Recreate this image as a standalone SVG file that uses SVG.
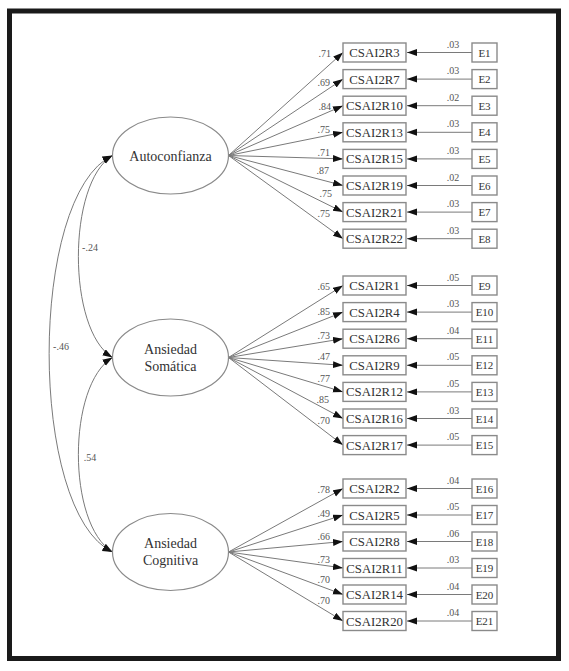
<svg xmlns="http://www.w3.org/2000/svg" width="569" height="671" viewBox="0 0 569 671">
<style>
.frame{fill:#fff;stroke:#1a1a1a;stroke-width:5}
.box{fill:#fff;stroke:#8a8a8a;stroke-width:1.4}
.lat{fill:#fff;stroke:#8a8a8a;stroke-width:1.2}
.ln{fill:none;stroke:#7a7a7a;stroke-width:1}
.t{font-family:"Liberation Serif","Times New Roman",serif;fill:#333;text-anchor:middle}
.bt{font-size:12.8px}
.et{font-size:11px}
.lt{font-size:14px}
.nt{font-family:"Liberation Serif","Times New Roman",serif;fill:#555;font-size:10px}
.ne{text-anchor:end}
.nm{text-anchor:middle}
</style>
<defs>
<marker id="ah" markerUnits="userSpaceOnUse" markerWidth="11" markerHeight="8" refX="10" refY="3.5" orient="auto-start-reverse">
<path d="M0,0 L10,3.5 L0,7 Z" fill="#111"/>
</marker>
</defs>
<rect class="frame" x="9.5" y="11" width="549" height="647.5"/>

<g id="connectors">
<!-- covariances -->
<path class="ln" d="M112.5,155.5 C67,183 67,330 112.5,357.5" marker-start="url(#ah)" marker-end="url(#ah)"/>
<path class="ln" d="M112.5,357.5 C67,385 67,524 112.5,552" marker-start="url(#ah)" marker-end="url(#ah)"/>
<path class="ln" d="M112.5,155.5 C28,195 28,512 112.5,552" marker-start="url(#ah)" marker-end="url(#ah)"/>
<text class="nt nm" x="90" y="251">-.24</text>
<text class="nt nm" x="90" y="461">.54</text>
<text class="nt nm" x="61" y="350">-.46</text>
<!-- loadings group 1 -->
<g marker-end="url(#ah)">
<line class="ln" x1="228.5" y1="155.5" x2="343" y2="52.5"/>
<line class="ln" x1="228.5" y1="155.5" x2="343" y2="79.1"/>
<line class="ln" x1="228.5" y1="155.5" x2="343" y2="105.7"/>
<line class="ln" x1="228.5" y1="155.5" x2="343" y2="132.3"/>
<line class="ln" x1="228.5" y1="155.5" x2="343" y2="158.9"/>
<line class="ln" x1="228.5" y1="155.5" x2="343" y2="185.5"/>
<line class="ln" x1="228.5" y1="155.5" x2="343" y2="212.1"/>
<line class="ln" x1="228.5" y1="155.5" x2="343" y2="238.7"/>
<line class="ln" x1="228.5" y1="357.5" x2="343" y2="285.5"/>
<line class="ln" x1="228.5" y1="357.5" x2="343" y2="312.1"/>
<line class="ln" x1="228.5" y1="357.5" x2="343" y2="338.7"/>
<line class="ln" x1="228.5" y1="357.5" x2="343" y2="365.3"/>
<line class="ln" x1="228.5" y1="357.5" x2="343" y2="391.9"/>
<line class="ln" x1="228.5" y1="357.5" x2="343" y2="418.5"/>
<line class="ln" x1="228.5" y1="357.5" x2="343" y2="445.1"/>
<line class="ln" x1="228.5" y1="552" x2="343" y2="488.5"/>
<line class="ln" x1="228.5" y1="552" x2="343" y2="515"/>
<line class="ln" x1="228.5" y1="552" x2="343" y2="541.5"/>
<line class="ln" x1="228.5" y1="552" x2="343" y2="568"/>
<line class="ln" x1="228.5" y1="552" x2="343" y2="594.5"/>
<line class="ln" x1="228.5" y1="552" x2="343" y2="621"/>
<!-- error arrows -->
<line class="ln" x1="472" y1="52.5" x2="407" y2="52.5"/>
<line class="ln" x1="472" y1="79.1" x2="407" y2="79.1"/>
<line class="ln" x1="472" y1="105.7" x2="407" y2="105.7"/>
<line class="ln" x1="472" y1="132.3" x2="407" y2="132.3"/>
<line class="ln" x1="472" y1="158.9" x2="407" y2="158.9"/>
<line class="ln" x1="472" y1="185.5" x2="407" y2="185.5"/>
<line class="ln" x1="472" y1="212.1" x2="407" y2="212.1"/>
<line class="ln" x1="472" y1="238.7" x2="407" y2="238.7"/>
<line class="ln" x1="472" y1="285.5" x2="407" y2="285.5"/>
<line class="ln" x1="472" y1="312.1" x2="407" y2="312.1"/>
<line class="ln" x1="472" y1="338.7" x2="407" y2="338.7"/>
<line class="ln" x1="472" y1="365.3" x2="407" y2="365.3"/>
<line class="ln" x1="472" y1="391.9" x2="407" y2="391.9"/>
<line class="ln" x1="472" y1="418.5" x2="407" y2="418.5"/>
<line class="ln" x1="472" y1="445.1" x2="407" y2="445.1"/>
<line class="ln" x1="472" y1="488.5" x2="407" y2="488.5"/>
<line class="ln" x1="472" y1="515" x2="407" y2="515"/>
<line class="ln" x1="472" y1="541.5" x2="407" y2="541.5"/>
<line class="ln" x1="472" y1="568" x2="407" y2="568"/>
<line class="ln" x1="472" y1="594.5" x2="407" y2="594.5"/>
<line class="ln" x1="472" y1="621" x2="407" y2="621"/>
</g>
<!-- loading labels -->
<g class="nt ne">
<text x="331" y="57">.71</text>
<text x="330" y="86">.69</text>
<text x="331" y="110">.84</text>
<text x="330" y="133">.75</text>
<text x="330" y="156">.71</text>
<text x="329" y="174">.87</text>
<text x="332" y="197">.75</text>
<text x="330" y="217">.75</text>
<text x="330" y="290">.65</text>
<text x="330" y="315">.85</text>
<text x="330" y="339">.73</text>
<text x="330" y="360">.47</text>
<text x="330" y="382">.77</text>
<text x="329" y="403">.85</text>
<text x="330" y="424">.70</text>
<text x="330" y="493">.78</text>
<text x="330" y="517">.49</text>
<text x="330" y="540">.66</text>
<text x="330" y="563">.73</text>
<text x="330" y="583">.70</text>
<text x="330" y="604">.70</text>
</g>
<!-- error labels -->
<g class="nt nm">
<text x="453" y="47.5">.03</text>
<text x="453" y="74.1">.03</text>
<text x="453" y="100.7">.02</text>
<text x="453" y="127.3">.03</text>
<text x="453" y="153.9">.03</text>
<text x="453" y="180.5">.02</text>
<text x="453" y="207.1">.03</text>
<text x="453" y="233.7">.03</text>
<text x="453" y="280.5">.05</text>
<text x="453" y="307.1">.03</text>
<text x="453" y="333.7">.04</text>
<text x="453" y="360.3">.05</text>
<text x="453" y="386.9">.05</text>
<text x="453" y="413.5">.03</text>
<text x="453" y="440.1">.05</text>
<text x="453" y="483.5">.04</text>
<text x="453" y="510">.05</text>
<text x="453" y="536.5">.06</text>
<text x="453" y="563">.03</text>
<text x="453" y="589.5">.04</text>
<text x="453" y="616">.04</text>
</g>
</g>

<g id="latent-autoconfianza">
<ellipse class="lat" cx="170.5" cy="155.5" rx="58" ry="38.5"/>
<text class="t lt" x="170.5" y="160.5">Autoconfianza</text>
</g>
<g id="latent-somatica">
<ellipse class="lat" cx="170.5" cy="357.5" rx="58" ry="38.5"/>
<text class="t lt" x="170.5" y="353.5">Ansiedad</text>
<text class="t lt" x="170.5" y="370.5">Somática</text>
</g>
<g id="latent-cognitiva">
<ellipse class="lat" cx="170.5" cy="552" rx="58" ry="38.5"/>
<text class="t lt" x="170.5" y="548">Ansiedad</text>
<text class="t lt" x="170.5" y="565">Cognitiva</text>
</g>

<g id="obs-CSAI2R3"><rect class="box" x="343" y="43" width="63" height="19"/><text class="t bt" x="374.5" y="57">CSAI2R3</text></g>
<g id="obs-CSAI2R7"><rect class="box" x="343" y="69.6" width="63" height="19"/><text class="t bt" x="374.5" y="83.6">CSAI2R7</text></g>
<g id="obs-CSAI2R10"><rect class="box" x="343" y="96.2" width="63" height="19"/><text class="t bt" x="374.5" y="110.2">CSAI2R10</text></g>
<g id="obs-CSAI2R13"><rect class="box" x="343" y="122.8" width="63" height="19"/><text class="t bt" x="374.5" y="136.8">CSAI2R13</text></g>
<g id="obs-CSAI2R15"><rect class="box" x="343" y="149.4" width="63" height="19"/><text class="t bt" x="374.5" y="163.4">CSAI2R15</text></g>
<g id="obs-CSAI2R19"><rect class="box" x="343" y="176" width="63" height="19"/><text class="t bt" x="374.5" y="190">CSAI2R19</text></g>
<g id="obs-CSAI2R21"><rect class="box" x="343" y="202.6" width="63" height="19"/><text class="t bt" x="374.5" y="216.6">CSAI2R21</text></g>
<g id="obs-CSAI2R22"><rect class="box" x="343" y="229.2" width="63" height="19"/><text class="t bt" x="374.5" y="243.2">CSAI2R22</text></g>

<g id="obs-CSAI2R1"><rect class="box" x="343" y="276" width="63" height="19"/><text class="t bt" x="374.5" y="290">CSAI2R1</text></g>
<g id="obs-CSAI2R4"><rect class="box" x="343" y="302.6" width="63" height="19"/><text class="t bt" x="374.5" y="316.6">CSAI2R4</text></g>
<g id="obs-CSAI2R6"><rect class="box" x="343" y="329.2" width="63" height="19"/><text class="t bt" x="374.5" y="343.2">CSAI2R6</text></g>
<g id="obs-CSAI2R9"><rect class="box" x="343" y="355.8" width="63" height="19"/><text class="t bt" x="374.5" y="369.8">CSAI2R9</text></g>
<g id="obs-CSAI2R12"><rect class="box" x="343" y="382.4" width="63" height="19"/><text class="t bt" x="374.5" y="396.4">CSAI2R12</text></g>
<g id="obs-CSAI2R16"><rect class="box" x="343" y="409" width="63" height="19"/><text class="t bt" x="374.5" y="423">CSAI2R16</text></g>
<g id="obs-CSAI2R17"><rect class="box" x="343" y="435.6" width="63" height="19"/><text class="t bt" x="374.5" y="449.6">CSAI2R17</text></g>

<g id="obs-CSAI2R2"><rect class="box" x="343" y="479" width="63" height="19"/><text class="t bt" x="374.5" y="493">CSAI2R2</text></g>
<g id="obs-CSAI2R5"><rect class="box" x="343" y="505.5" width="63" height="19"/><text class="t bt" x="374.5" y="519.5">CSAI2R5</text></g>
<g id="obs-CSAI2R8"><rect class="box" x="343" y="532" width="63" height="19"/><text class="t bt" x="374.5" y="546">CSAI2R8</text></g>
<g id="obs-CSAI2R11"><rect class="box" x="343" y="558.5" width="63" height="19"/><text class="t bt" x="374.5" y="572.5">CSAI2R11</text></g>
<g id="obs-CSAI2R14"><rect class="box" x="343" y="585" width="63" height="19"/><text class="t bt" x="374.5" y="599">CSAI2R14</text></g>
<g id="obs-CSAI2R20"><rect class="box" x="343" y="611.5" width="63" height="19"/><text class="t bt" x="374.5" y="625.5">CSAI2R20</text></g>

<g id="err-E1"><rect class="box" x="472" y="43" width="25" height="19"/><text class="t et" x="484.5" y="56.5">E1</text></g>
<g id="err-E2"><rect class="box" x="472" y="69.6" width="25" height="19"/><text class="t et" x="484.5" y="83.1">E2</text></g>
<g id="err-E3"><rect class="box" x="472" y="96.2" width="25" height="19"/><text class="t et" x="484.5" y="109.7">E3</text></g>
<g id="err-E4"><rect class="box" x="472" y="122.8" width="25" height="19"/><text class="t et" x="484.5" y="136.3">E4</text></g>
<g id="err-E5"><rect class="box" x="472" y="149.4" width="25" height="19"/><text class="t et" x="484.5" y="162.9">E5</text></g>
<g id="err-E6"><rect class="box" x="472" y="176" width="25" height="19"/><text class="t et" x="484.5" y="189.5">E6</text></g>
<g id="err-E7"><rect class="box" x="472" y="202.6" width="25" height="19"/><text class="t et" x="484.5" y="216.1">E7</text></g>
<g id="err-E8"><rect class="box" x="472" y="229.2" width="25" height="19"/><text class="t et" x="484.5" y="242.7">E8</text></g>
<g id="err-E9"><rect class="box" x="472" y="276" width="25" height="19"/><text class="t et" x="484.5" y="289.5">E9</text></g>
<g id="err-E10"><rect class="box" x="472" y="302.6" width="25" height="19"/><text class="t et" x="484.5" y="316.1">E10</text></g>
<g id="err-E11"><rect class="box" x="472" y="329.2" width="25" height="19"/><text class="t et" x="484.5" y="342.7">E11</text></g>
<g id="err-E12"><rect class="box" x="472" y="355.8" width="25" height="19"/><text class="t et" x="484.5" y="369.3">E12</text></g>
<g id="err-E13"><rect class="box" x="472" y="382.4" width="25" height="19"/><text class="t et" x="484.5" y="395.9">E13</text></g>
<g id="err-E14"><rect class="box" x="472" y="409" width="25" height="19"/><text class="t et" x="484.5" y="422.5">E14</text></g>
<g id="err-E15"><rect class="box" x="472" y="435.6" width="25" height="19"/><text class="t et" x="484.5" y="449.1">E15</text></g>
<g id="err-E16"><rect class="box" x="472" y="479" width="25" height="19"/><text class="t et" x="484.5" y="492.5">E16</text></g>
<g id="err-E17"><rect class="box" x="472" y="505.5" width="25" height="19"/><text class="t et" x="484.5" y="519">E17</text></g>
<g id="err-E18"><rect class="box" x="472" y="532" width="25" height="19"/><text class="t et" x="484.5" y="545.5">E18</text></g>
<g id="err-E19"><rect class="box" x="472" y="558.5" width="25" height="19"/><text class="t et" x="484.5" y="572">E19</text></g>
<g id="err-E20"><rect class="box" x="472" y="585" width="25" height="19"/><text class="t et" x="484.5" y="598.5">E20</text></g>
<g id="err-E21"><rect class="box" x="472" y="611.5" width="25" height="19"/><text class="t et" x="484.5" y="625">E21</text></g>
</svg>
